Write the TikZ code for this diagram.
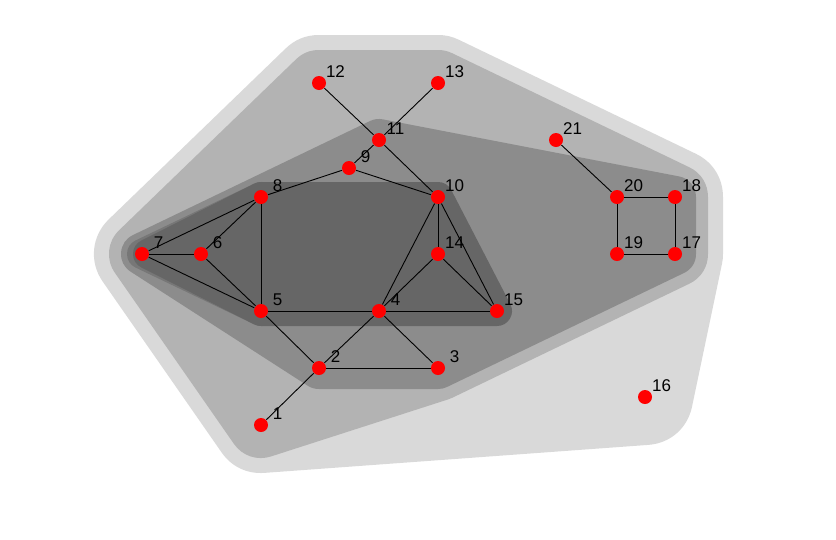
\documentclass[tikz,border=0pt]{standalone}
\usepackage{fontspec}
\setmainfont{Liberation Sans}
\pgfdeclarelayer{hull}
\pgfsetlayers{hull,main}
\definecolor{core0}{HTML}{D9D9D9}
\definecolor{core1}{HTML}{B3B3B3}
\definecolor{core2}{HTML}{8C8C8C}
\definecolor{core3}{HTML}{666666}
\definecolor{core3b}{HTML}{777777}
\begin{document}
\begin{tikzpicture}[x=1pt,y=-1pt,line width=.9pt,
  v/.style={circle,fill=red,inner sep=0pt,minimum size=14pt},
  lbl/.style={anchor=base,inner sep=0pt,xshift=16.5pt,yshift=-1.5pt,font=\fontsize{17}{20}\selectfont},
  core/.style={line join=round,line width=#1}]
  \useasboundingbox (0,0) rectangle (836,539);
  \node[v,label={[lbl]1}] (n1) at (261,425) {};
  \node[v,label={[lbl]2}] (n2) at (319,368) {};
  \node[v,label={[lbl]3}] (n3) at (438,368) {};
  \node[v,label={[lbl]4}] (n4) at (379,311) {};
  \node[v,label={[lbl]5}] (n5) at (261,311) {};
  \node[v,label={[lbl]6}] (n6) at (201,254) {};
  \node[v,label={[lbl]7}] (n7) at (142,254) {};
  \node[v,label={[lbl]8}] (n8) at (261,197) {};
  \node[v,label={[lbl]9}] (n9) at (349,168) {};
  \node[v,label={[lbl]10}] (n10) at (438,197) {};
  \node[v,label={[lbl]11}] (n11) at (379,140) {};
  \node[v,label={[lbl]12}] (n12) at (319,83) {};
  \node[v,label={[lbl]13}] (n13) at (438,83) {};
  \node[v,label={[lbl]14}] (n14) at (438,254) {};
  \node[v,label={[lbl]15}] (n15) at (497,311) {};
  \node[v,label={[lbl]16}] (n16) at (645,397) {};
  \node[v,label={[lbl]17}] (n17) at (675,254) {};
  \node[v,label={[lbl]18}] (n18) at (675,197) {};
  \node[v,label={[lbl]19}] (n19) at (617,254) {};
  \node[v,label={[lbl]20}] (n20) at (617,197) {};
  \node[v,label={[lbl]21}] (n21) at (556,140) {};
  \draw (n1)--(n2); \draw (n2)--(n3); \draw (n2)--(n4); \draw (n2)--(n5);
  \draw (n3)--(n4); \draw (n4)--(n5); \draw (n4)--(n15); \draw (n4)--(n10);
  \draw (n4)--(n14); \draw (n5)--(n6); \draw (n5)--(n7); \draw (n5)--(n8);
  \draw (n6)--(n7); \draw (n6)--(n8); \draw (n7)--(n8); \draw (n8)--(n9);
  \draw (n9)--(n10); \draw (n9)--(n11); \draw (n10)--(n11); \draw (n11)--(n12);
  \draw (n11)--(n13); \draw (n10)--(n14); \draw (n10)--(n15); \draw (n14)--(n15);
  \draw (n20)--(n21); \draw (n20)--(n18); \draw (n18)--(n17); \draw (n17)--(n19);
  \draw (n19)--(n20);
  \begin{pgfonlayer}{hull}
    \filldraw[core0,core=96pt] (n12.center)--(n13.center)--(n18.center)--(n17.center)--(n16.center)--(n1.center)--(n7.center)--cycle;
    \filldraw[core1,core=66pt] (n12.center)--(n13.center)--(n18.center)--(n17.center)--(n3.center)--(n1.center)--(n7.center)--cycle;
    \filldraw[core2,core=42pt] (n11.center)--(n18.center)--(n17.center)--(n3.center)--(n2.center)--(n7.center)--cycle;
    \filldraw[core3b,core=30pt] (n7.center)--(n8.center)--(n5.center)--cycle;
    \filldraw[core3,core=30pt] ([xshift=6pt]n7.center)--(n8.center)--(n10.center)--(n15.center)--(n5.center)--cycle;
  \end{pgfonlayer}
\end{tikzpicture}
\end{document}
